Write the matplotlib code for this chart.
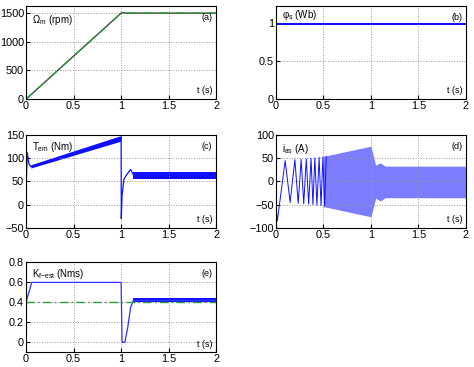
import numpy as np
import matplotlib
matplotlib.use('Agg')
from matplotlib import pyplot as plt

plt.rcParams['font.family'] = ['Liberation Sans', 'DejaVu Sans']
plt.rcParams['mathtext.fontset'] = 'custom'
plt.rcParams['mathtext.rm'] = 'Liberation Sans'
plt.rcParams['mathtext.it'] = 'Liberation Sans'

# (a) rotor speed, rpm
t_spd = [0, 1.0, 1.02, 1.05, 2.0]
spd_meas = [0, 1500, 1510, 1500, 1500]
t_spd_ref = [0, 1.0, 2.0]
spd_ref = [0, 1500, 1500]

# (b) stator flux, Wb
t_flux = [0, 0, 0.005, 2.0]
flux = [0, 0.95, 0.99, 0.99]
t_flux_band = [0.005, 2.0]
flux_lo = [0.98, 0.98]
flux_hi = [1.005, 1.005]

# (c) electromagnetic torque, Nm
t_trq = [0, 0.004, 0.012, 0.03, 0.05, 1.0, 1.0, 1.002, 1.01, 1.03, 1.06, 1.1, 1.13, 2.0]
trq = [0, 60, 112, 88, 82, 143, 145, -30, 20, 55, 65, 76, 64, 63]
t_trq_band = [0.05, 1.0]
trq_lo = [79, 137]
trq_hi = [86, 149]
t_trq_band2 = [1.12, 2.0]
trq2_lo = [56, 56]
trq2_hi = [71, 71]

# (d) stator current, A -- individual swings then dense band
t_cur = [0, 0.003, 0.015, 0.098, 0.15, 0.2, 0.235, 0.266, 0.293, 0.32, 0.345,
         0.37, 0.39, 0.41, 0.432, 0.455, 0.475, 0.495, 0.513, 0.53]
cur = [0, -60, -85, 45, -45, 47, -47, 48, -48, 49, -49,
       50, -50, 51, -51, 52, -52, 53, -53, 54]
t_cur_band = [0.5, 1.0, 1.0, 1.05, 1.1, 1.15, 2.0]
cur_hi = [54, 76, 76, 35, 40, 33, 33]
cur_lo = [-54, -76, -76, -36, -42, -35, -35]

# (e) estimated friction coefficient, Nms
t_k = [0, 0, 0.005, 0.06, 1.0, 1.01, 1.04, 1.07, 1.1, 1.13, 2.0]
k_est = [0.1, 0.38, 0.42, 0.6, 0.6, 0.0, 0.0, 0.15, 0.35, 0.42, 0.42]
t_k_band = [1.13, 2.0]
k_lo = [0.4, 0.4]
k_hi = [0.445, 0.445]
t_k_ref = [0, 2.0]
k_ref = [0.4, 0.4]

blue = '#1010ff'
green = '#2a9a3a'
dashdot = (0, (6, 2.5, 1, 2.5))

fig = plt.figure(figsize=(4.74, 3.67), dpi=100)
w, h = 0.401, 0.253
ax_a = fig.add_axes([0.055, 0.730, w, h])
ax_b = fig.add_axes([0.582, 0.730, w, h])
ax_c = fig.add_axes([0.055, 0.379, w, h])
ax_d = fig.add_axes([0.582, 0.379, w, h])
ax_e = fig.add_axes([0.055, 0.040, w, 0.245])

ax_a.plot(t_spd, spd_meas, color='#3a4a40', lw=1.0)
ax_a.plot(t_spd_ref, spd_ref, color=green, lw=1.0, linestyle=dashdot)
ax_a.set_ylim(0, 1620)
ax_a.set_yticks([0, 500, 1000, 1500])

ax_b.plot(t_flux, flux, color=blue, lw=1.0)
ax_b.fill_between(t_flux_band, flux_lo, flux_hi, color=blue, lw=0)
ax_b.set_ylim(0, 1.22)
ax_b.set_yticks([0, 0.5, 1])
ax_b.set_yticklabels(['0', '0.5', '1'])

ax_c.plot(t_trq, trq, color=blue, lw=0.9)
ax_c.fill_between(t_trq_band, trq_lo, trq_hi, color=blue, lw=0)
ax_c.fill_between(t_trq_band2, trq2_lo, trq2_hi, color=blue, lw=0)
ax_c.set_ylim(-50, 150)
ax_c.set_yticks([-50, 0, 50, 100, 150])

ax_d.plot(t_cur, cur, color=blue, lw=0.7)
ax_d.fill_between(t_cur_band, cur_lo, cur_hi, color=blue, alpha=0.55, lw=0)
ax_d.set_ylim(-100, 100)
ax_d.set_yticks([-100, -50, 0, 50, 100])

ax_e.plot(t_k, k_est, color='#3030ff', lw=0.9)
ax_e.fill_between(t_k_band, k_lo, k_hi, color=blue, lw=0)
ax_e.plot(t_k_ref, k_ref, color=green, lw=1.0, linestyle=dashdot)
ax_e.set_ylim(-0.1, 0.8)
ax_e.set_yticks([0, 0.2, 0.4, 0.6, 0.8])
ax_e.set_yticklabels(['0', '0.2', '0.4', '0.6', '0.8'])

labels = [(ax_a, r'$\Omega_m$ (rpm)', '(a)', 0.93),
          (ax_b, r'$\varphi_s$ (Wb)', '(b)', 0.98),
          (ax_c, r'$T_{em}$ (Nm)', '(c)', 0.95),
          (ax_d, r'$i_{as}$ (A)', '(d)', 0.93),
          (ax_e, r'$K_{f\mathrm{-est}}$ (Nms)', '(e)', 0.95)]
for ax, name, tag, ytxt in labels:
    ax.set_xlim(0, 2)
    ax.set_xticks([0, 0.5, 1, 1.5, 2])
    ax.set_xticklabels(['0', '0.5', '1', '1.5', '2'])
    ax.grid(True, linestyle=':', color='#999999', lw=0.7)
    ax.tick_params(direction='in', labelsize=7.8, length=3, pad=1.5)
    ax.text(0.03, ytxt, name, transform=ax.transAxes, fontsize=7, va='top', ha='left')
    ax.text(0.98, 0.93, tag, transform=ax.transAxes, fontsize=6.5, va='top', ha='right')
    ax.text(0.98, 0.04, 't (s)', transform=ax.transAxes, fontsize=6.5, va='bottom', ha='right')
    for s in ax.spines.values():
        s.set_linewidth(0.8)

fig.savefig('out.png', dpi=100)
